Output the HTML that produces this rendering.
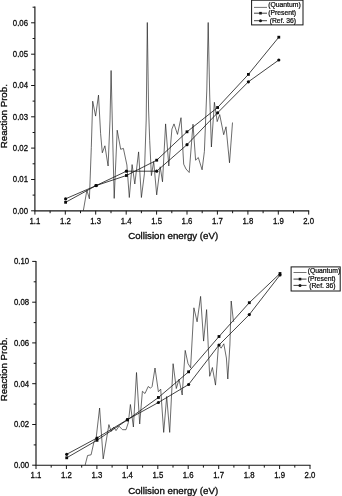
<!DOCTYPE html>
<html><head><meta charset="utf-8"><title>Reaction probability</title>
<style>html,body{margin:0;padding:0;background:#fff}svg{display:block}text{font-family:"Liberation Sans",Arial,sans-serif;fill:#0c0c0c;stroke:#0c0c0c;stroke-width:0.28px}.t{font-size:8.2px}.l{font-size:9.7px;stroke-width:0.33px}.g{font-size:6.8px;stroke-width:0.22px}</style></head><body>
<svg width="342" height="496" viewBox="0 0 342 496">
<rect width="342" height="496" fill="#fff"/>
<g stroke="#141414" stroke-width="1.15" fill="none">
<path d="M34.9,6.5V210.8H309.2"/>
<path stroke-width="1" d="M34.9,210.8h-3.8M34.9,179.5h-3.8M34.9,148.1h-3.8M34.9,116.8h-3.8M34.9,85.5h-3.8M34.9,54.2h-3.8M34.9,22.8h-3.8M34.9,195.1h-2.3M34.9,163.8h-2.3M34.9,132.5h-2.3M34.9,101.1h-2.3M34.9,69.8h-2.3M34.9,38.5h-2.3M34.9,7.2h-2.3M34.9,210.8v3.8M65.3,210.8v3.8M95.7,210.8v3.8M126.2,210.8v3.8M156.6,210.8v3.8M187.0,210.8v3.8M217.4,210.8v3.8M247.9,210.8v3.8M278.3,210.8v3.8M308.7,210.8v3.8M50.1,210.8v2.4M80.5,210.8v2.4M111.0,210.8v2.4M141.4,210.8v2.4M171.8,210.8v2.4M202.2,210.8v2.4M232.6,210.8v2.4M263.1,210.8v2.4M293.5,210.8v2.4"/>
</g>
<g stroke="#141414" fill="none" stroke-linejoin="miter">
<polyline stroke-width="0.65" stroke="#1c1c1c" points="83.3,210.8 86.9,190.2 89.4,198.8 91.3,147.5 92.7,101.2 95.6,116.1 98.5,95.1 100.6,133.5 102.3,152.8 104.9,145.8 108.1,166.0 110.0,120.0 111.1,70.5 112.5,130.0 114.2,198.4 117.2,130.2 120.7,149.3 123.4,148.4 126.9,165.0 129.3,197.5 132.1,164.6 134.8,184.0 138.6,151.9 141.4,197.5 144.4,173.9 146.2,120.0 147.3,22.5 148.6,110.0 149.7,140.5 151.4,175.6 153.7,161.6 156.7,194.9 160.2,166.8 162.5,181.8 165.6,123.9 168.8,166.0 171.9,129.1 174.0,123.9 177.5,134.4 181.0,117.7 183.7,164.2 186.0,169.0 189.2,172.5 193.0,124.2 195.6,160.2 198.3,157.5 202.1,169.8 204.4,151.4 206.8,90.0 208.2,22.5 209.7,95.0 211.4,147.0 214.4,102.3 217.2,121.6 219.7,114.6 223.7,134.7 226.0,126.8 229.5,162.8 232.5,122.5"/>
<polyline stroke-width="0.8" points="65.6,202.3 96.1,185.6 126.4,175.5 156.7,160.2 187.0,131.8 217.6,107.5 248.4,74.4 278.8,37.2"/>
<polyline stroke-width="0.8" points="65.6,198.8 96.1,185.6 126.4,171.2 156.7,171.2 187.0,144.7 217.6,112.8 248.4,81.8 278.8,60.0"/>
</g>
<g fill="#0a0a0a">
<rect x="64.2" y="200.9" width="2.8" height="2.8"/>
<rect x="94.7" y="184.2" width="2.8" height="2.8"/>
<rect x="125.0" y="174.1" width="2.8" height="2.8"/>
<rect x="155.3" y="158.8" width="2.8" height="2.8"/>
<rect x="185.6" y="130.4" width="2.8" height="2.8"/>
<rect x="216.2" y="106.1" width="2.8" height="2.8"/>
<rect x="247.0" y="73.0" width="2.8" height="2.8"/>
<rect x="277.4" y="35.8" width="2.8" height="2.8"/>
<circle cx="65.6" cy="198.8" r="1.6"/>
<circle cx="96.1" cy="185.6" r="1.6"/>
<circle cx="126.4" cy="171.2" r="1.6"/>
<circle cx="156.7" cy="171.2" r="1.6"/>
<circle cx="187.0" cy="144.7" r="1.6"/>
<circle cx="217.6" cy="112.8" r="1.6"/>
<circle cx="248.4" cy="81.8" r="1.6"/>
<circle cx="278.8" cy="60.0" r="1.6"/>
</g>
<text class="t" transform="translate(28.0,213.8) scale(.95,1)" text-anchor="end">0.00</text>
<text class="t" transform="translate(28.0,182.4) scale(.95,1)" text-anchor="end">0.01</text>
<text class="t" transform="translate(28.0,151.1) scale(.95,1)" text-anchor="end">0.02</text>
<text class="t" transform="translate(28.0,119.8) scale(.95,1)" text-anchor="end">0.03</text>
<text class="t" transform="translate(28.0,88.4) scale(.95,1)" text-anchor="end">0.04</text>
<text class="t" transform="translate(28.0,57.1) scale(.95,1)" text-anchor="end">0.05</text>
<text class="t" transform="translate(28.0,25.8) scale(.95,1)" text-anchor="end">0.06</text>
<text class="t" transform="translate(34.9,223.7) scale(.95,1)" text-anchor="middle">1.1</text>
<text class="t" transform="translate(65.3,223.7) scale(.95,1)" text-anchor="middle">1.2</text>
<text class="t" transform="translate(95.7,223.7) scale(.95,1)" text-anchor="middle">1.3</text>
<text class="t" transform="translate(126.2,223.7) scale(.95,1)" text-anchor="middle">1.4</text>
<text class="t" transform="translate(156.6,223.7) scale(.95,1)" text-anchor="middle">1.5</text>
<text class="t" transform="translate(187.0,223.7) scale(.95,1)" text-anchor="middle">1.6</text>
<text class="t" transform="translate(217.4,223.7) scale(.95,1)" text-anchor="middle">1.7</text>
<text class="t" transform="translate(247.9,223.7) scale(.95,1)" text-anchor="middle">1.8</text>
<text class="t" transform="translate(278.3,223.7) scale(.95,1)" text-anchor="middle">1.9</text>
<text class="t" transform="translate(308.7,223.7) scale(.95,1)" text-anchor="middle">2.0</text>
<text class="l" x="173.2" y="239.2" text-anchor="middle">Collision energy (eV)</text>
<text class="l" transform="translate(7.3,116.2) rotate(-90)" text-anchor="middle">Reaction Prob.</text>
<rect x="251.6" y="0.2" width="51.4" height="24.7" fill="#fff" stroke="#141414" stroke-width="1"/>
<path d="M254.0,7.4h13" stroke="#141414" stroke-width="0.6"/>
<text class="g" x="268.2" y="6.5">(Quantum)</text>
<path d="M254.0,13.2h13" stroke="#141414" stroke-width="0.8"/>
<rect x="259.2" y="11.9" width="2.6" height="2.6" fill="#141414"/>
<text class="g" x="268.2" y="15.2">(Present)</text>
<path d="M254.0,20.7h13" stroke="#141414" stroke-width="0.8"/>
<circle cx="260.5" cy="20.7" r="1.5" fill="#141414"/>
<text class="g" x="269.7" y="22.8">(Ref. 36)</text>
<g stroke="#141414" stroke-width="1.15" fill="none">
<path d="M36.0,260.9V465.2H310.5"/>
<path stroke-width="1" d="M36.0,465.2h-3.8M36.0,424.5h-3.8M36.0,383.7h-3.8M36.0,342.9h-3.8M36.0,302.2h-3.8M36.0,261.4h-3.8M36.0,444.9h-2.3M36.0,404.1h-2.3M36.0,363.3h-2.3M36.0,322.6h-2.3M36.0,281.8h-2.3M36.0,465.2v3.8M66.4,465.2v3.8M96.9,465.2v3.8M127.3,465.2v3.8M157.8,465.2v3.8M188.2,465.2v3.8M218.7,465.2v3.8M249.1,465.2v3.8M279.6,465.2v3.8M310.0,465.2v3.8M51.2,465.2v2.4M81.7,465.2v2.4M112.1,465.2v2.4M142.6,465.2v2.4M173.0,465.2v2.4M203.4,465.2v2.4M233.9,465.2v2.4M264.3,465.2v2.4M294.8,465.2v2.4"/>
</g>
<g stroke="#141414" fill="none" stroke-linejoin="miter">
<polyline stroke-width="0.65" stroke="#1c1c1c" points="85.1,465.2 87.6,455.5 91.1,454.8 93.8,442.6 96.2,437.6 99.6,408.0 103.2,458.9 108.9,424.6 111.1,431.5 113.7,427.1 116.0,430.6 119.0,426.2 122.5,429.7 126.0,429.7 128.3,422.7 130.4,404.5 133.4,427.0 136.5,372.5 139.7,424.0 142.4,391.3 145.0,393.5 148.2,386.5 150.5,388.2 152.1,386.5 155.0,368.0 158.4,391.8 160.7,389.1 163.7,432.4 166.7,396.5 169.7,432.4 173.1,363.7 176.3,388.5 179.0,379.3 182.2,395.0 185.2,350.4 188.0,363.5 190.6,367.8 193.9,307.8 197.1,321.8 200.6,296.4 203.6,341.1 206.6,309.6 208.8,358.7 209.7,376.3 212.4,367.5 215.5,385.1 218.5,344.6 221.1,348.2 223.8,343.8 226.4,358.0 227.8,379.0 229.9,345.0 231.2,301.0 233.3,320.1 233.8,321.8"/>
<polyline stroke-width="0.8" points="66.7,457.8 97.0,440.3 127.4,419.9 158.4,397.5 188.6,371.8 219.0,336.5 249.3,302.7 280.0,273.5"/>
<polyline stroke-width="0.8" points="66.7,454.3 97.0,438.0 127.4,419.6 158.4,402.5 188.6,384.5 219.0,345.0 249.3,314.6 280.0,275.0"/>
</g>
<g fill="#0a0a0a">
<rect x="65.3" y="456.4" width="2.8" height="2.8"/>
<rect x="95.6" y="438.9" width="2.8" height="2.8"/>
<rect x="126.0" y="418.5" width="2.8" height="2.8"/>
<rect x="157.0" y="396.1" width="2.8" height="2.8"/>
<rect x="187.2" y="370.4" width="2.8" height="2.8"/>
<rect x="217.6" y="335.1" width="2.8" height="2.8"/>
<rect x="247.9" y="301.3" width="2.8" height="2.8"/>
<rect x="278.6" y="272.1" width="2.8" height="2.8"/>
<circle cx="66.7" cy="454.3" r="1.6"/>
<circle cx="97.0" cy="438.0" r="1.6"/>
<circle cx="127.4" cy="419.6" r="1.6"/>
<circle cx="158.4" cy="402.5" r="1.6"/>
<circle cx="188.6" cy="384.5" r="1.6"/>
<circle cx="219.0" cy="345.0" r="1.6"/>
<circle cx="249.3" cy="314.6" r="1.6"/>
<circle cx="280.0" cy="275.0" r="1.6"/>
</g>
<text class="t" transform="translate(29.1,468.2) scale(.95,1)" text-anchor="end">0.00</text>
<text class="t" transform="translate(29.1,427.4) scale(.95,1)" text-anchor="end">0.02</text>
<text class="t" transform="translate(29.1,386.7) scale(.95,1)" text-anchor="end">0.04</text>
<text class="t" transform="translate(29.1,345.9) scale(.95,1)" text-anchor="end">0.06</text>
<text class="t" transform="translate(29.1,305.1) scale(.95,1)" text-anchor="end">0.08</text>
<text class="t" transform="translate(29.1,264.3) scale(.95,1)" text-anchor="end">0.10</text>
<text class="t" transform="translate(36.0,478.0) scale(.95,1)" text-anchor="middle">1.1</text>
<text class="t" transform="translate(66.4,478.0) scale(.95,1)" text-anchor="middle">1.2</text>
<text class="t" transform="translate(96.9,478.0) scale(.95,1)" text-anchor="middle">1.3</text>
<text class="t" transform="translate(127.3,478.0) scale(.95,1)" text-anchor="middle">1.4</text>
<text class="t" transform="translate(157.8,478.0) scale(.95,1)" text-anchor="middle">1.5</text>
<text class="t" transform="translate(188.2,478.0) scale(.95,1)" text-anchor="middle">1.6</text>
<text class="t" transform="translate(218.7,478.0) scale(.95,1)" text-anchor="middle">1.7</text>
<text class="t" transform="translate(249.1,478.0) scale(.95,1)" text-anchor="middle">1.8</text>
<text class="t" transform="translate(279.6,478.0) scale(.95,1)" text-anchor="middle">1.9</text>
<text class="t" transform="translate(310.0,478.0) scale(.95,1)" text-anchor="middle">2.0</text>
<text class="l" x="173.2" y="494.0" text-anchor="middle">Collision energy (eV)</text>
<text class="l" transform="translate(7.3,369.3) rotate(-90)" text-anchor="middle">Reaction Prob.</text>
<rect x="291.1" y="266.9" width="49.1" height="24.1" fill="#fff" stroke="#141414" stroke-width="1"/>
<path d="M293.5,272.5h13" stroke="#141414" stroke-width="0.6"/>
<text class="g" x="307.7" y="272.6">(Quantum)</text>
<path d="M293.5,279.1h13" stroke="#141414" stroke-width="0.8"/>
<rect x="298.7" y="277.8" width="2.6" height="2.6" fill="#141414"/>
<text class="g" x="307.7" y="281.2">(Present)</text>
<path d="M293.5,285.4h13" stroke="#141414" stroke-width="0.8"/>
<circle cx="300.0" cy="285.4" r="1.5" fill="#141414"/>
<text class="g" x="309.2" y="288.2">(Ref. 36)</text>
</svg></body></html>
